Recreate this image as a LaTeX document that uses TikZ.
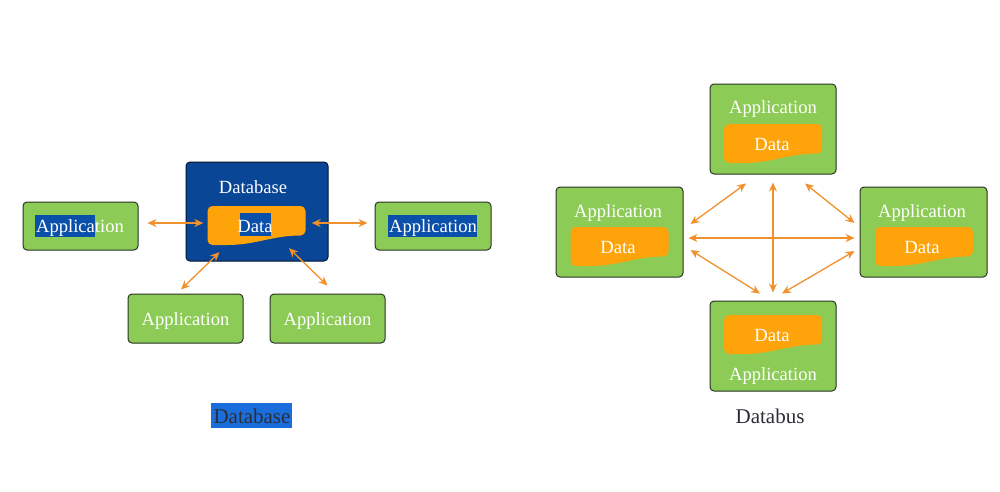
\documentclass[tikz,border=0pt]{standalone}
\usepackage{fontspec}
\setmainfont{Liberation Serif}
\usetikzlibrary{calc,arrows.meta}
\definecolor{appgreen}{RGB}{140,203,85}
\definecolor{boxline}{RGB}{40,52,40}
\definecolor{dbblue}{RGB}{10,70,150}
\definecolor{dataorange}{RGB}{255,163,10}
\definecolor{arrorange}{RGB}{240,145,45}
\definecolor{hlblue}{RGB}{10,80,170}
\definecolor{hlbright}{RGB}{25,110,220}
\definecolor{labelgray}{RGB}{45,45,55}
\newcommand\dshape[1]{%
  \begin{scope}[shift={(#1.center)}]
    \fill[dataorange] (-30,19.5) [rounded corners=5pt] -- (-49,19.5) -- (-49,-19.5) -- (49,-19.5) -- (49,10) [sharp corners] .. controls (15,10) and (0,19.5) .. (-30,19.5) -- cycle;
  \end{scope}}
\begin{document}
\begin{tikzpicture}[x=1pt,y=-1pt,
  appbox/.style={draw=boxline,fill=appgreen,rounded corners=4pt,line width=1pt,inner sep=0pt},
  dbbox/.style={draw=black!70!dbblue,fill=dbblue,rounded corners=4pt,line width=1pt,inner sep=0pt},
  dataanchor/.style={inner sep=0pt,minimum width=98pt,minimum height=39pt},
  txt/.style={text=white,font=\fontsize{18.6}{20}\selectfont,inner sep=0pt,yshift=-2pt},
  captxt/.style={text=labelgray,font=\fontsize{21}{24}\selectfont,inner sep=0pt,yshift=-1pt},
  arr/.style={draw=arrorange,line width=1.3pt,{Stealth[length=9pt,width=8pt]}-{Stealth[length=9pt,width=8pt]}}]
\useasboundingbox[fill=white] (0,0) rectangle (1000,491);

% ---------------- Left: Database ----------------
\node[dbbox,minimum width=142pt,minimum height=99pt] (db) at (257,211.5) {};
\node[txt] (dblabel) at (253,185) {Database};
\node[dataanchor] (dataC) at (256.5,225.5) {};
\dshape{dataC}
\fill[hlblue] (240,213) rectangle (271,236);
\node[txt] (dataCt) at (255,224) {Data};

\node[appbox,minimum width=115pt,minimum height=48pt] (appL) at (80.5,226) {};
\fill[hlblue] (35,215) rectangle (95,237);
\node[txt] (appLt) at (80,226) {Application};

\node[appbox,minimum width=116pt,minimum height=48pt] (appR) at (433,226) {};
\fill[hlblue] (388,215) rectangle (477,237);
\node[txt] (appRt) at (433,226) {Application};

\node[appbox,minimum width=115pt,minimum height=49pt] (appBL) at (185.5,318.5) {};
\node[txt] (appBLt) at (185.5,319) {Application};
\node[appbox,minimum width=115pt,minimum height=49pt] (appBR) at (327.5,318.5) {};
\node[txt] (appBRt) at (327.5,319) {Application};

\draw[arr] ($(appL.east)+(9,-3)$) -- ($(dataC.west)+(-4,-2.5)$);
\draw[arr] ($(dataC.east)+(6,-2.5)$) -- ($(appR.west)+(-7,-3)$);
\draw[arr] ($(dataC.south)+(-37,7)$) -- ($(appBL.north)+(-4.5,-4)$);
\draw[arr] ($(dataC.south)+(32.5,3)$) -- ($(appBR.north)+(0,-8)$);

\fill[hlbright] (211,403) rectangle (292,428);
\node[captxt] (capDB) at (252,415) {Database};

% ---------------- Right: Databus ----------------
\node[appbox,minimum width=126pt,minimum height=90pt] (appT) at (773,129) {};
\node[txt] (appTt) at (773,107) {Application};
\node[dataanchor] (dT) at (773,143.5) {};
\dshape{dT}
\node[txt] (dTt) at (772,142) {Data};

\node[appbox,minimum width=127pt,minimum height=90pt] (appLf) at (619.5,232) {};
\node[txt] (appLft) at (618,211) {Application};
\node[dataanchor] (dL) at (619.5,246.5) {};
\dshape{dL}
\node[txt] (dLt) at (618,245) {Data};

\node[appbox,minimum width=127pt,minimum height=90pt] (appRg) at (923.5,232) {};
\node[txt] (appRgt) at (922,211) {Application};
\node[dataanchor] (dR) at (924,246.5) {};
\dshape{dR}
\node[txt] (dRt) at (922,245) {Data};

\node[appbox,minimum width=126pt,minimum height=90pt] (appB) at (773,346) {};
\node[dataanchor] (dB) at (773,334.5) {};
\dshape{dB}
\node[txt] (dBt) at (772,333) {Data};
\node[txt] (appBt) at (773,374) {Application};

\draw[arr] ($(appLf.east)+(5,6)$) -- ($(appRg.west)+(-5,6)$);
\draw[arr] ($(appT.south)+(0,8)$) -- ($(appB.north)+(0,-8)$);
\draw[arr] ($(appLf.east)+(7,-8)$) -- ($(appT.south)+(-27,9)$);
\draw[arr] ($(appT.south)+(32,9)$) -- ($(appRg.west)+(-5,-9)$);
\draw[arr] ($(appLf.east)+(7,18)$) -- ($(appB.north)+(-13,-7)$);
\draw[arr] ($(appB.north)+(9,-7)$) -- ($(appRg.west)+(-5,19)$);

\node[captxt] (capBus) at (770,415) {Databus};
\end{tikzpicture}
\end{document}
